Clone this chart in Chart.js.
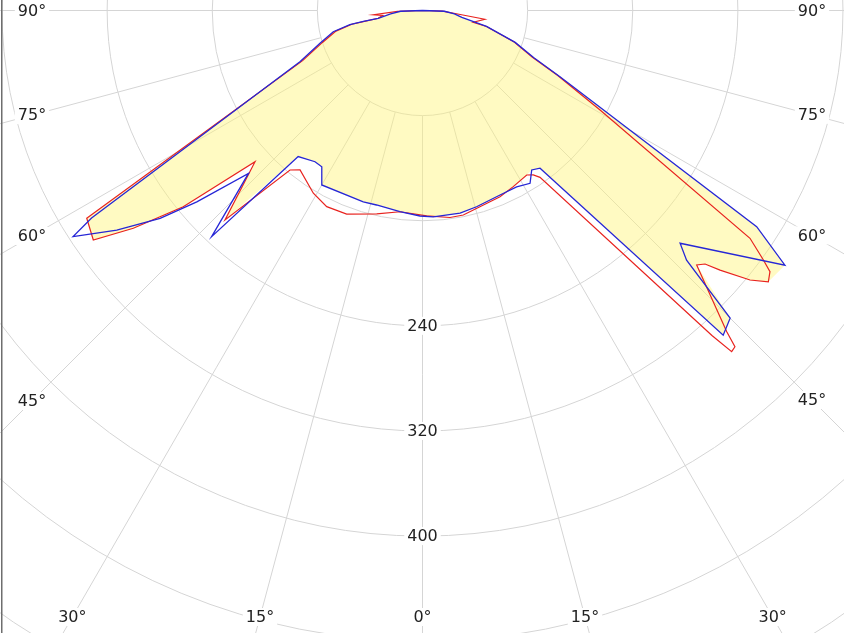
<!DOCTYPE html>
<html>
<head>
<meta charset="utf-8">
<script src="https://cdn.jsdelivr.net/npm/chart.js@4.4.1/dist/chart.umd.min.js"></script>
<style>
  html, body { margin: 0; padding: 0; background: #fff; overflow: hidden; }
  canvas { display: block; }
</style>
</head>
<body>
<canvas id="polarChart" width="844" height="633"></canvas>
<script>
// gamma angle in degrees (0 = straight down, negative = left half), intensity values
const gammaBlue = [-180, -95, -88, -84, -80, -79.5, -79, -76.6, -72.3, -67.3, -57.9, -57.1, -54.3, -51.6, -49.7, -46.9, -43.0, -40.4, -35.4, -32.8, -30.0, -17.2, -13.3, -6.4, -0.7, 3.0, 10.5, 15.4, 22.8, 28.1, 31.9, 34.4, 36.7, 42.8, 45.0, 46.6, 47.9, 54.9, 57.1, 64.3, 67, 71, 76, 80, 84, 88, 95, 180];
const cdBlue = [0, 0, 16.7, 24.4, 34.2, 45.7, 56.3, 69.8, 81.9, 101.1, 297.3, 316.7, 286.5, 254.8, 225.2, 181.4, 235.3, 146.0, 141.2, 141.5, 153.3, 152.4, 152.1, 154.1, 156.4, 157.2, 156.9, 154.9, 152.3, 152.1, 154.9, 147.1, 149.7, 336.8, 331.1, 276.6, 264.2, 337.1, 302.9, 116.1, 92.1, 74.6, 50.2, 30.4, 24.4, 16.7, 0, 0];

const gammaRed = [-180, -95, -88, -85, -83, -80, -79.5, -79, -76.6, -72.3, -67.3, -58.25, -55.12, -53.02, -50.64, -47.93, -43.31, -39.72, -37.52, -30.85, -26.03, -20.43, -12.68, -6.38, 1.17, 7.57, 11.28, 14.29, 22.6, 27.26, 32.35, 33.96, 35.16, 41.69, 42.18, 42.9, 43.45, 47.13, 48.1, 48.9, 50.55, 51.89, 53.07, 53.8, 55.18, 60.73, 64.3, 67, 71, 76, 77, 82, 84, 88, 95, 180];
const cdRed = [0, 0, 19.0, 37.3, 30.4, 34.2, 44.1, 54.8, 67.7, 79.9, 98.9, 300.5, 305.4, 275.5, 235.5, 171.7, 219.1, 157.8, 153.0, 162.0, 166.1, 165.3, 158.7, 154.1, 156.4, 158.9, 158.7, 156.7, 153.5, 150.8, 148.2, 150.9, 155.3, 331.2, 350.4, 349.3, 336.7, 284.7, 288.9, 300.5, 322.8, 334.5, 330.8, 321.5, 303.6, 154.9, 114.2, 90.6, 73.8, 50.2, 39.6, 47.9, 28.9, 15.2, 0, 0];

// shaded area
const gammaFill = [-180, -95, -88, -84, -80, -79.5, -79, -76.6, -72.3, -67.3, -58.25, -55.12, -53.02, -50.64, -47.93, -43.31, -40.4, -35.4, -32.8, -30.0, -17.2, -13.3, -6.4, -0.7, 3.0, 10.5, 15.4, 22.8, 27.26, 32.35, 34.4, 36.7, 42.8, 45.0, 47.13, 48.1, 48.9, 50.55, 51.89, 54.9, 57.1, 64.3, 67, 71, 76, 80, 84, 88, 95, 180];
const cdFill = [0, 0, 16.7, 24.4, 34.2, 45.7, 56.3, 69.8, 81.9, 101.1, 300.5, 305.4, 275.5, 235.5, 171.7, 219.1, 146.0, 141.2, 141.5, 153.3, 152.4, 152.1, 154.1, 156.4, 157.2, 156.9, 154.9, 152.3, 150.8, 148.2, 147.1, 149.7, 336.8, 331.1, 284.7, 288.9, 300.5, 322.8, 334.5, 337.1, 302.9, 116.1, 92.1, 74.6, 50.2, 30.4, 24.4, 16.7, 0, 0];

const ringValues = [80, 160, 240, 320, 400, 480, 560];
const ringLabels = [240, 320, 400];
const angleTicks = [-90, -75, -60, -45, -30, -15, 0, 15, 30, 45, 60, 75, 90];

const PX_PER_UNIT = 1.314;
const CENTER_X = 422.5, CENTER_Y = 10.5;

function toXY(gammas, values) {
    return gammas.map(function(g, i) {
        const rad = g * Math.PI / 180;
        return { x: values[i] * Math.sin(rad), y: -values[i] * Math.cos(rad) };
    });
}

const polarGrid = {
    id: 'polarGrid',
    beforeDatasetsDraw(chart) {
        const { ctx, chartArea, scales: { x, y } } = chart;
        const cx = x.getPixelForValue(0), cy = y.getPixelForValue(0);
        ctx.save();
        ctx.beginPath();
        ctx.rect(chartArea.left, chartArea.top, chartArea.width, chartArea.height);
        ctx.clip();
        ctx.strokeStyle = '#d5d5d5';
        ctx.lineWidth = 1;
        ringValues.forEach(function(v) {
            const r = x.getPixelForValue(v) - cx;
            ctx.beginPath();
            ctx.arc(cx, cy, r, 0, Math.PI * 2);
            ctx.stroke();
        });
        for (let a = -180; a < 180; a += 15) {
            const rad = a * Math.PI / 180;
            const r0 = ringValues[0], r1 = 800;
            ctx.beginPath();
            ctx.moveTo(x.getPixelForValue(r0 * Math.sin(rad)), y.getPixelForValue(-r0 * Math.cos(rad)));
            ctx.lineTo(x.getPixelForValue(r1 * Math.sin(rad)), y.getPixelForValue(-r1 * Math.cos(rad)));
            ctx.stroke();
        }
        ctx.restore();
    },
    afterDatasetsDraw(chart) {
        const { ctx, chartArea, scales: { x, y } } = chart;
        const cx = x.getPixelForValue(0), cy = y.getPixelForValue(0);
        ctx.save();
        ctx.font = '16px "DejaVu Sans"';
        ctx.textAlign = 'center';
        ctx.textBaseline = 'middle';

        function label(text, px, py) {
            const w = ctx.measureText(text).width;
            ctx.fillStyle = '#fff';
            ctx.fillRect(px - w / 2 - 3, py - 9, w + 6, 18);
            ctx.fillStyle = '#222';
            ctx.fillText(text, px, py + 1);
        }

        // ring values along the 0° line
        ringLabels.forEach(function(v) {
            label(String(v), cx, y.getPixelForValue(-v));
        });

        // angle labels where each line meets the inner frame
        const left = chartArea.left + 32, right = chartArea.right - 32, bottom = chartArea.bottom - 16;
        angleTicks.forEach(function(a) {
            const rad = a * Math.PI / 180;
            const sx = Math.sin(rad), sy = Math.cos(rad);
            let t = Infinity;
            if (sx < -1e-6) t = Math.min(t, (left - cx) / sx);
            if (sx > 1e-6) t = Math.min(t, (right - cx) / sx);
            if (sy > 1e-6) t = Math.min(t, (bottom - cy) / sy);
            label(Math.abs(a) + '°', cx + t * sx, cy + t * sy);
        });

        // frame edge on the left
        ctx.fillStyle = '#6e6e6e';
        ctx.fillRect(1, 0, 1.5, chartArea.bottom);
        ctx.restore();
    }
};

const ctx = document.getElementById('polarChart').getContext('2d');
new Chart(ctx, {
    type: 'scatter',
    data: {
        datasets: [
            {
                label: 'area',
                data: toXY(gammaFill, cdFill),
                showLine: true,
                fill: 'shape',
                backgroundColor: 'rgba(255, 244, 120, 0.45)',
                borderColor: 'rgba(0,0,0,0)',
                borderWidth: 0,
                pointRadius: 0,
                tension: 0,
                order: 3
            },
            {
                label: 'C0-C180',
                data: toXY(gammaRed, cdRed),
                showLine: true,
                fill: false,
                borderColor: '#e8231f',
                borderWidth: 1.2,
                pointRadius: 0,
                tension: 0,
                order: 2
            },
            {
                label: 'C90-C270',
                data: toXY(gammaBlue, cdBlue),
                showLine: true,
                fill: false,
                borderColor: '#2626d6',
                borderWidth: 1.3,
                pointRadius: 0,
                tension: 0,
                order: 1
            }
        ]
    },
    options: {
        responsive: false,
        animation: false,
        events: [],
        layout: { padding: 0 },
        plugins: {
            legend: { display: false },
            tooltip: { enabled: false }
        },
        scales: {
            x: {
                type: 'linear',
                display: false,
                min: -CENTER_X / PX_PER_UNIT,
                max: (844 - CENTER_X) / PX_PER_UNIT
            },
            y: {
                type: 'linear',
                display: false,
                min: -(633 - CENTER_Y) / PX_PER_UNIT,
                max: CENTER_Y / PX_PER_UNIT
            }
        }
    },
    plugins: [polarGrid]
});
</script>
</body>
</html>
